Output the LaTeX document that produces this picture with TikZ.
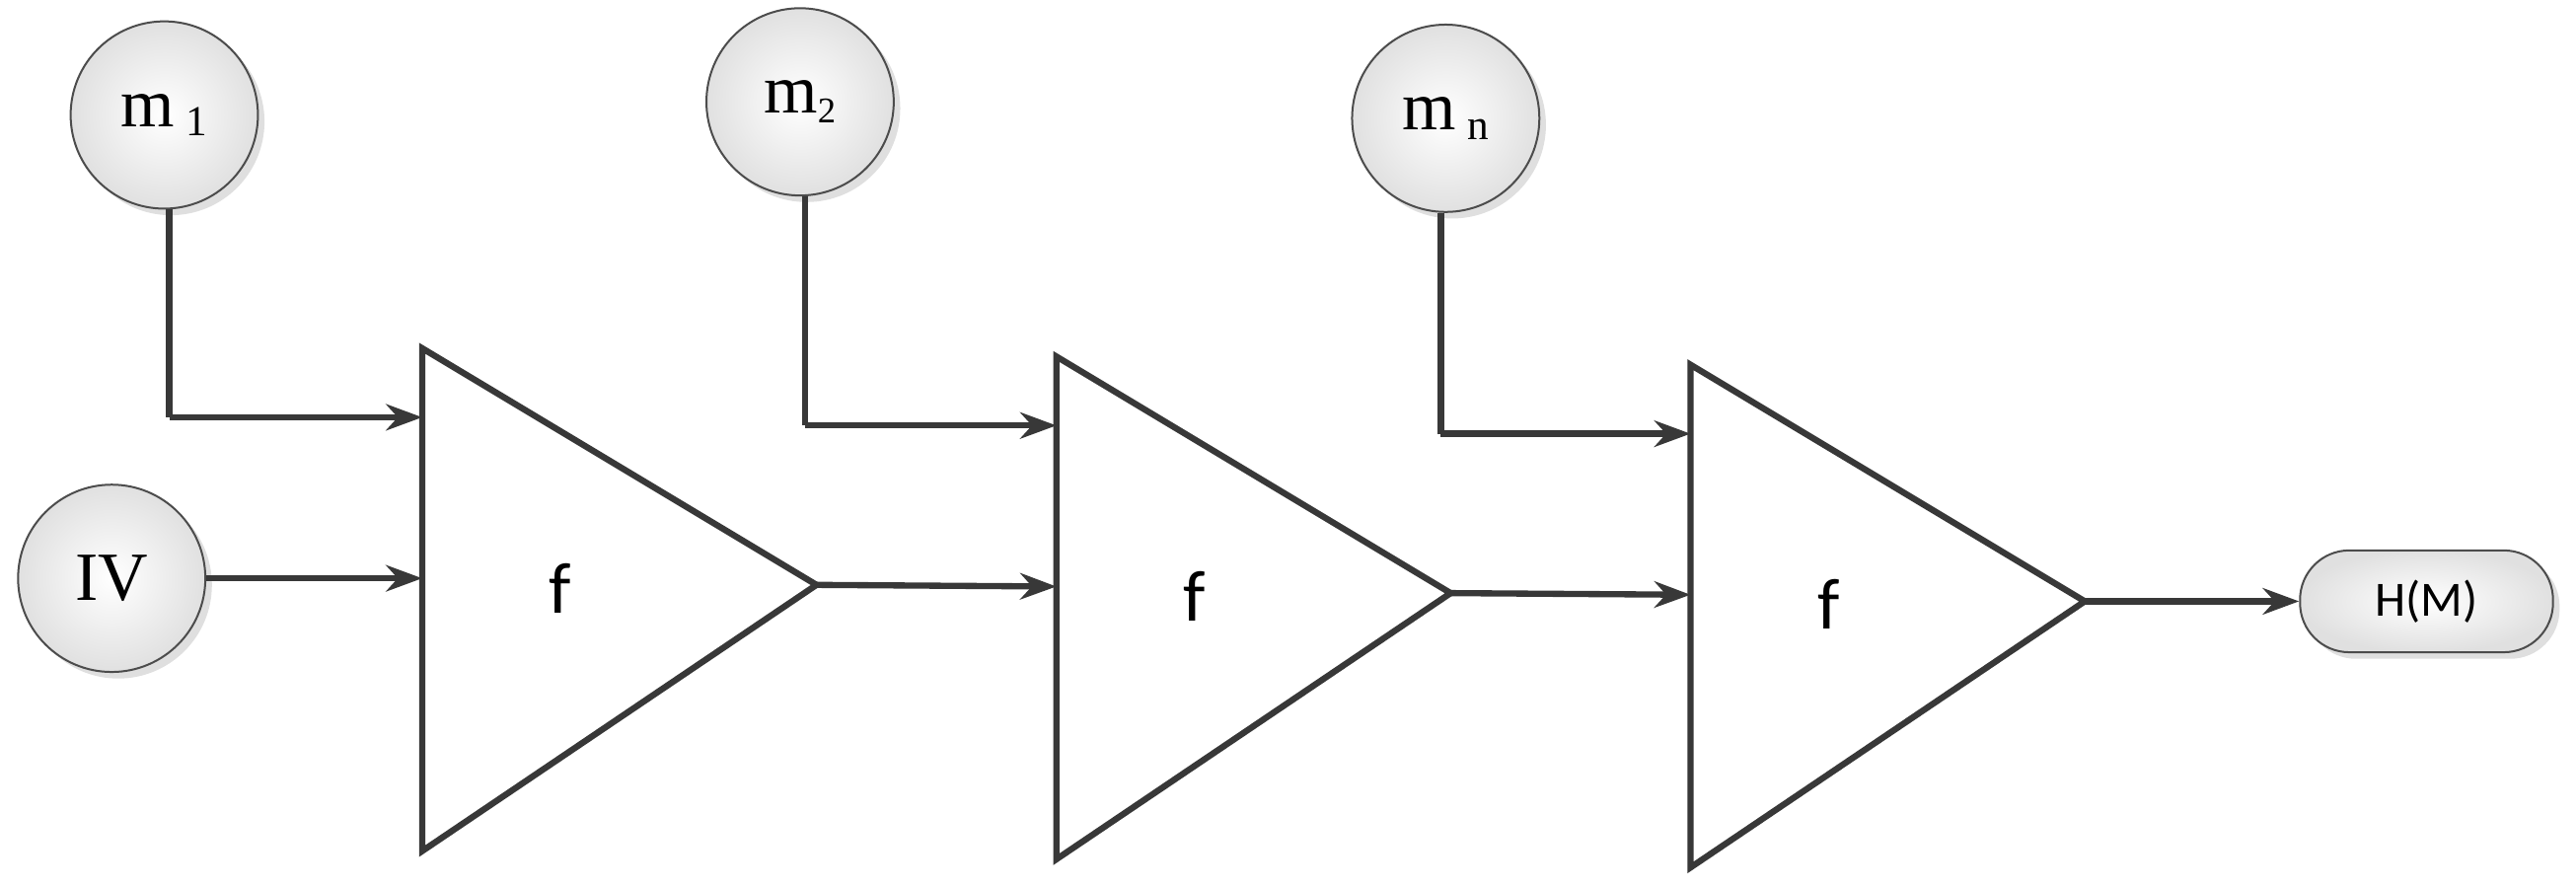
\documentclass[tikz,border=0pt]{standalone}
\usepackage{fontspec}
\setmainfont{Liberation Serif}
\newfontfamily\sansf{Carlito}
\usetikzlibrary{arrows.meta,shadows}
\begin{document}
\begin{tikzpicture}[x=0.5pt,y=-0.5pt,
  ln/.style={line width=1.9pt,draw=black!78},
  arr/.style={ln,-{Stealth[length=11pt,width=8pt]}},
  circ/.style={circle,minimum size=57pt,draw=black!70,line width=0.6pt,inner sep=0pt,
    inner color=white,outer color=black!12,drop shadow={shadow xshift=2pt,shadow yshift=-2pt,opacity=0.25},font=\fontsize{21}{24}\selectfont},
  tri/.style={ln}]
\useasboundingbox (0,0) rectangle (1568,539.3);
\node[circ] (m1) at (100,70) {m\,\raisebox{-0.3ex}{\fontsize{13}{14}\selectfont 1}};
\node[circ] (m2) at (487,62) {m\raisebox{-0.3ex}{\fontsize{11}{12}\selectfont 2}};
\node[circ] (mn) at (880,72) {m\,\raisebox{-0.3ex}{\fontsize{13}{14}\selectfont n}};
\node[circ] (iv) at (68,352) {IV};
\node[draw=black!70,line width=0.6pt,rounded corners=15pt,minimum width=77pt,minimum height=31pt,
  inner color=white,outer color=black!12,drop shadow={shadow xshift=2pt,shadow yshift=-2pt,opacity=0.25},
  font=\sansf\fontsize{15}{18}\selectfont] (hm) at (1477,366) {H(M)};
\foreach \i/\x/\y in {1/257/212,2/643/217,3/1029/222}{
  \coordinate (t\i a) at (\x,\y);
  \coordinate (t\i b) at (\x,\y+306);
  \coordinate (t\i tip) at (\x+240,\y+144);
  \draw[tri] (t\i a) -- (t\i tip) -- (t\i b) -- cycle;
  \node[font=\sansf\fontsize{22}{24}\selectfont] at (\x+84,\y+146) {f};
  \coordinate (t\i u) at (\x,\y+42);
  \coordinate (t\i m) at (\x,\y+140);
}
\draw[ln] (m1.south)++(3,0) coordinate (s1) -- (s1 |- t1u) coordinate (c1);
\draw[arr] (c1) -- (t1u);
\draw[ln] (m2.south)++(3,0) coordinate (s2) -- (s2 |- t2u) coordinate (c2);
\draw[arr] (c2) -- (t2u);
\draw[ln] (mn.south)++(-3,0) coordinate (s3) -- (s3 |- t3u) coordinate (c3);
\draw[arr] (c3) -- (t3u);
\draw[arr] (iv.east |- t1m) -- (t1m);
\draw[arr] (t1tip) -- (t2m);
\draw[arr] (t2tip) -- (t3m);
\draw[arr] (t3tip) -- (t3tip -| hm.west);
\end{tikzpicture}
\end{document}
